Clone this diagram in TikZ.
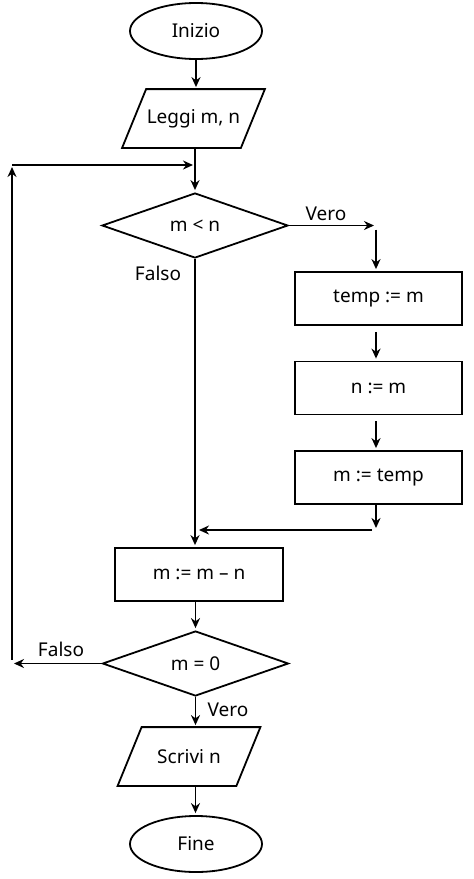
\documentclass[tikz,border=0pt]{standalone}
\usepackage{fontspec}
\setmainfont{Noto Sans}
\usetikzlibrary{shapes.geometric,arrows.meta}
\begin{document}
\begin{tikzpicture}[x=1pt,y=-1pt,line width=1.8pt,font=\fontsize{19}{22}\selectfont,
  arr/.style={-{Stealth[length=10pt,width=9pt]},shorten >=2pt},
  term/.style={draw,ellipse,minimum width=132pt,minimum height=56pt,inner sep=0pt},
  io/.style={rectangle,minimum width=117pt,minimum height=57pt,inner sep=0pt},
  ioline/.style={line join=miter},
  proc/.style={draw,rectangle,minimum width=167pt,minimum height=53pt,inner sep=0pt},
  test/.style={draw,diamond,minimum width=186pt,minimum height=65pt,inner sep=0pt}]
\useasboundingbox (0,0) rectangle (474,879);

\node[term] (inizio) at (196,31) {Inizio};
\node[io] (leggi) at (193.5,118.5) {Leggi m, n};
\node[test] (test1) at (195,225.5) {m < n};
\node[proc] (temp) at (378.5,298.5) {temp := m};
\node[proc] (nm) at (378.5,388) {n := m};
\node[proc] (mt) at (378.5,477.5) {m := temp};
\node[proc,minimum width=168pt] (sub) at (199,574.5) {m := m -- n};
\node[test] (test2) at (195.5,663.5) {m = 0};
\node[io] (scrivi) at (189,756.5) {Scrivi n};
\node[term] (fine) at (196,844) {Fine};

\draw[ioline] ([xshift=12pt]leggi.north west) -- ([xshift=12pt]leggi.north east)
  -- ([xshift=-12pt]leggi.south east) -- ([xshift=-12pt]leggi.south west) -- cycle;
\draw[ioline] ([xshift=12pt]scrivi.north west) -- ([xshift=12pt]scrivi.north east)
  -- ([xshift=-12pt]scrivi.south east) -- ([xshift=-12pt]scrivi.south west) -- cycle;

\coordinate (join) at (195,165);
\coordinate (lt) at (12,165);
\coordinate (lb) at (12,663.5);
\coordinate (vr) at (376,225.5);
\coordinate (mr) at (376,530);
\coordinate (ml) at (195,530);

\draw[arr] (inizio.south) -- (inizio.south |- leggi.north);
\draw[arr] (join |- leggi.south) -- (test1.north);
\draw[arr] (lt) -- (join);
\draw[arr] (test1.east) -- (vr);
\draw[arr,shorten <=4pt] (vr) -- (vr |- temp.north);
\draw[arr,shorten <=6pt] (vr |- temp.south) -- (vr |- nm.north);
\draw[arr,shorten <=6pt] (vr |- nm.south) -- (vr |- mt.north);
\draw[arr] (vr |- mt.south) -- (mr);
\draw[arr,shorten <=4pt,shorten >=4pt] (mr) -- (ml);
\draw[arr] (test1.south) -- (test1.south |- sub.north);
\draw[arr] (test2.north |- sub.south) -- (test2.north);
\draw[arr] (test2.west) -- (lb);
\draw[arr,shorten <=4pt] (lb) -- (lt);
\draw[arr] (test2.south) -- (test2.south |- scrivi.north);
\draw[arr] (test2.south |- scrivi.south) -- (test2.south |- fine.north);

\node at (326,214) {Vero};
\node at (158,273) {Falso};
\node at (61,649) {Falso};
\node at (228,710) {Vero};
\end{tikzpicture}
\end{document}
